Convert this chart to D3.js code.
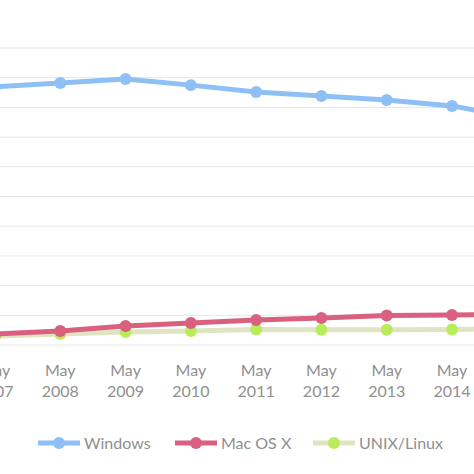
<!DOCTYPE html>
<html>
<head>
<meta charset="utf-8">
<script src="https://cdn.jsdelivr.net/npm/d3@7"></script>
<style>
  body { margin: 0; background: #fff; }
  text { font-family: Lato, "Open Sans", sans-serif; fill: #8f8f8f; }
</style>
</head>
<body>
<div id="chart"></div>
<script>
// Data (share, %)
const years = [2007, 2008, 2009, 2010, 2011, 2012, 2013, 2014, 2015];
const windows = [86.9, 88.2, 89.6, 87.5, 85.2, 83.8, 82.5, 80.5, 76.4];
const mac = [3.7, 4.7, 6.4, 7.4, 8.4, 9.1, 9.9, 10.1, 10.4];
const linux = [3.0, 3.7, 4.4, 4.7, 5.2, 5.1, 5.1, 5.2, 5.4];
const labelYears = [2007, 2008, 2009, 2010, 2011, 2012, 2013, 2014];
const gridTicks = d3.range(0, 101, 10);

const series = [
    {name: "Windows", values: windows, line: "#8fc0f5", dot: "#8fc0f5"},
    {name: "Mac OS X", values: mac, line: "#d9607f", dot: "#d9607f"},
    {name: "UNIX/Linux", values: linux, line: "#dfe5c4", dot: "#b8ec5a"}
];

const width = 474, height = 474;
const svg = d3.select("#chart").append("svg")
    .attr("width", width)
    .attr("height", height);

const x = d3.scaleLinear().domain([2007, 2014]).range([-5, 452]);
const y = d3.scaleLinear().domain([0, 100]).range([345, 48]);

// Gridlines
svg.append("g").selectAll("line")
    .data(gridTicks)
    .join("line")
    .attr("x1", 0).attr("x2", width)
    .attr("y1", d => y(d)).attr("y2", d => y(d))
    .attr("stroke", "#e6e6e6").attr("stroke-width", 1);

// X labels (the first one is cut off by the crop, as in the reference)
const lab = svg.append("g").selectAll("g")
    .data(labelYears)
    .join("g")
    .attr("transform", d => `translate(${x(d)},0)`);
lab.append("text").attr("y", 376).attr("text-anchor", "middle")
    .style("font-size", "16px").text("May");
lab.append("text").attr("y", 397).attr("text-anchor", "middle")
    .style("font-size", "16px").text(d => d);

// Lines and markers
const line = d3.line().x((d, i) => x(years[i])).y(d => y(d));
series.slice().reverse().forEach(s => {
    svg.append("path")
        .datum(s.values)
        .attr("d", line)
        .attr("fill", "none")
        .attr("stroke", s.line)
        .attr("stroke-width", 5)
        .attr("stroke-linejoin", "round");
    svg.append("g").selectAll("circle")
        .data(s.values)
        .join("circle")
        .attr("cx", (d, i) => x(years[i]))
        .attr("cy", d => y(d))
        .attr("r", 6)
        .attr("fill", s.dot);
});

// Legend
const legendX = [38, 175, 313];
const leg = svg.append("g").selectAll("g")
    .data(series)
    .join("g")
    .attr("transform", (d, i) => `translate(${legendX[i]},443)`);
leg.append("line").attr("x1", 0).attr("x2", 42)
    .attr("stroke", d => d.line).attr("stroke-width", 5);
leg.append("circle").attr("cx", 21).attr("r", 6).attr("fill", d => d.dot);
leg.append("text").attr("x", 46).attr("dy", "0.35em")
    .style("font-size", "16px").text(d => d.name);
</script>
</body>
</html>
